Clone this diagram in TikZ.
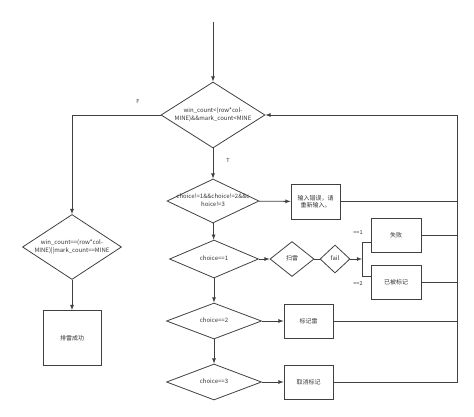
\documentclass[tikz,border=0pt]{standalone}
\usepackage{fontspec}
\setmainfont{Noto Sans CJK SC}
\usetikzlibrary{shapes.geometric}
\tikzset{dm/.style 2 args = {diamond, draw, inner sep=0pt, minimum width=#1, minimum height=#2},
         bx/.style 2 args = {rectangle, draw, inner sep=0pt, minimum width=#1, minimum height=#2, align=center},
         lb/.style = {inner sep=0pt, font=\fontsize{5.5}{6.5}\selectfont}}
\newcommand{\dtx}[1]{\makebox[0pt]{\begin{tabular}{@{}c@{}}#1\end{tabular}}}

\begin{document}
\begin{tikzpicture}[x=1pt, y=-1pt, >=latex, line width=0.8pt, draw=black!75, text=black!80,
                    font=\fontsize{6}{7.5}\selectfont]
    \useasboundingbox (0,0) rectangle (474,416);
    \coordinate (go) at (213,22);
    \node[dm={104pt}{66pt}] (main) at (213,115) {\dtx{win\_count<(row*col-\\MINE)\&\&mark\_count<MINE}};
    \node[dm={99pt}{65pt}] (win) at (72,247) {\dtx{win\_count==(row*col-\\MINE)||mark\_count==MINE}};
    \node[bx={58pt}{55pt}] (done) at (72,338) {排雷成功};
    \node[dm={92pt}{44pt}] (bad) at (213,201) {\dtx{choice!=1\&\&choice!=2\&\&c\\hoice!=3}};
    \node[bx={49pt}{35pt}] (err) at (315.5,201.5) {输入错误，请\\重新输入。};
    \node[dm={89pt}{38pt}] (c1) at (214,259) {\dtx{choice==1}};
    \node[dm={44pt}{35pt}] (sweep) at (292,259) {\dtx{扫雷}};
    \node[dm={30pt}{28pt}] (fail) at (335,259) {\dtx{fail}};
    \node[bx={50pt}{34pt}] (lose) at (396,235) {失败};
    \node[bx={50pt}{34pt}] (marked) at (396,282) {已被标记};
    \node[dm={95pt}{36pt}] (c2) at (214,321) {\dtx{choice==2}};
    \node[bx={49pt}{34pt}] (mark) at (308.5,321) {标记雷};
    \node[dm={95pt}{36pt}] (c3) at (214,382) {\dtx{choice==3}};
    \node[bx={49pt}{34pt}] (unmark) at (308.5,382) {取消标记};
    \coordinate (br) at (362,259); \coordinate (br1) at (362,242); \coordinate (br2) at (362,276);
    \coordinate (rtop) at (457,115); \coordinate (rbot) at (457,382);
    \node[lb] at (138,101) {F};
    \node[lb] at (228,160) {T};
    \node[lb] at (358,233) {==1};
    \node[lb] at (358,283) {==2};
    \draw[->] (go) -- (main);
    \draw[->] (main.west) -| (win.north);
    \draw[->] (win) -- (done);
    \draw[->] (main) -- (bad);
    \draw[->] (bad) -- (err);
    \draw[->] (bad) -- (c1);
    \draw[->] (c1) -- (c2);
    \draw[->] (c2) -- (c3);
    \draw[->] (c1) -- (sweep);
    \draw (sweep) -- (fail);
    \draw[->] (fail) -- (br);
    \draw (br1 -| lose.west) -- (br1) -- (br2) -- (br2 -| marked.west);
    \draw[->] (c2) -- (mark);
    \draw[->] (c3) -- (unmark);
    \draw (err.east) -- (err.east -| rtop);
    \draw (lose.east) -- (lose.east -| rtop);
    \draw (marked.east) -- (marked.east -| rtop);
    \draw (mark.east) -- (mark.east -| rtop);
    \draw[->] (unmark.east) -- (rbot) -- (rtop) -- (main.east);
\end{tikzpicture}
\end{document}
